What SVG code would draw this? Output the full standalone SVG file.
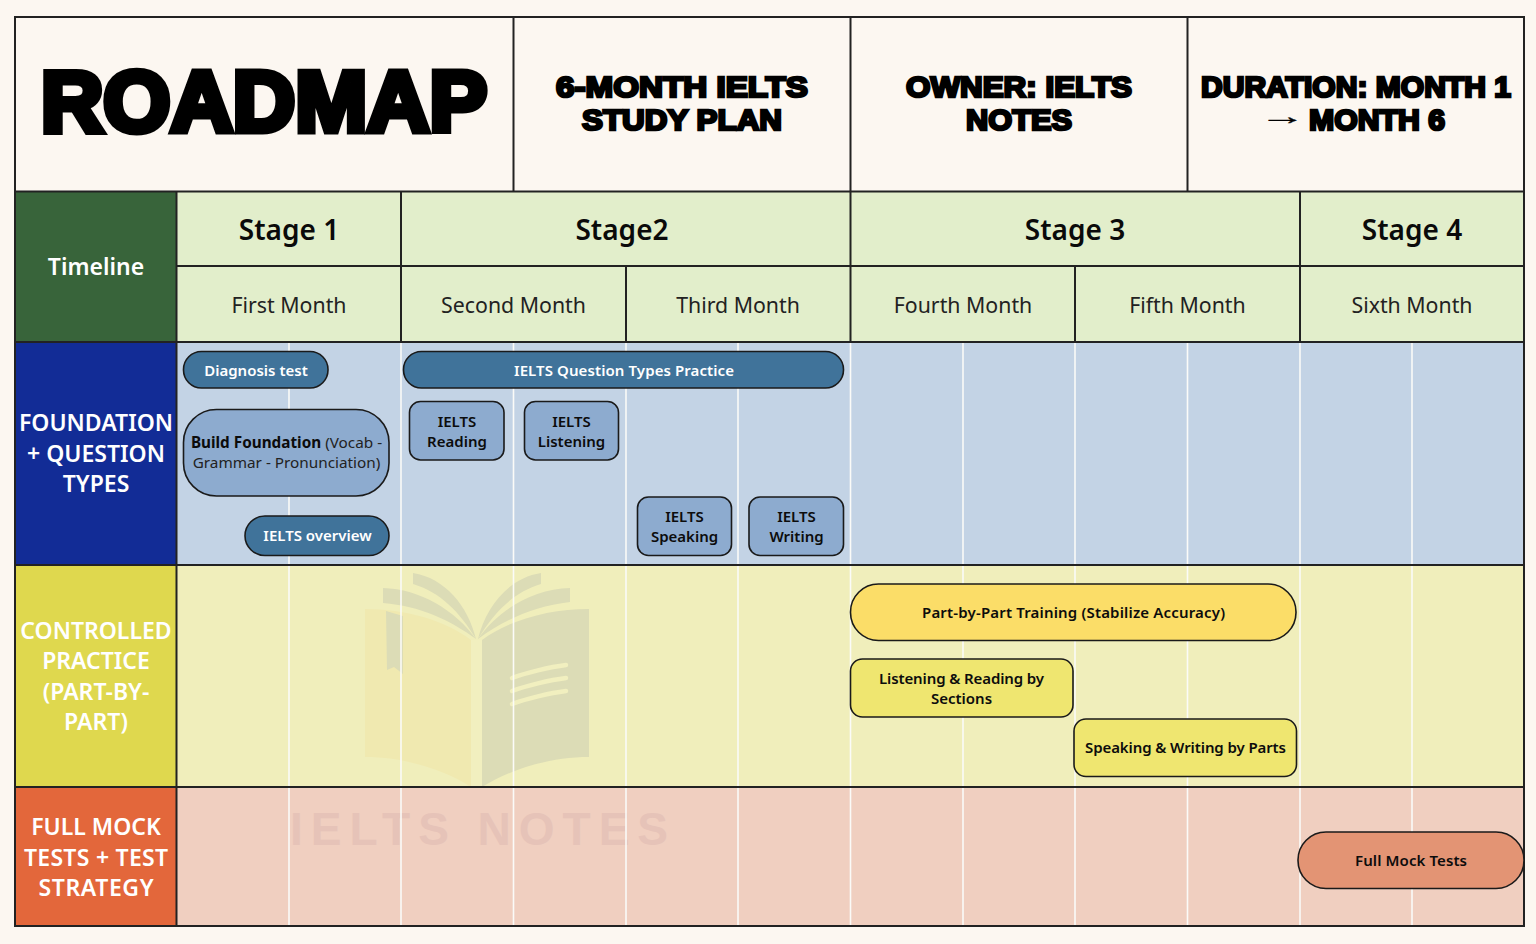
<svg xmlns="http://www.w3.org/2000/svg" width="1536" height="944" viewBox="0 0 1536 944">
<style>
text{font-family:"Noto Sans","Open Sans","DejaVu Sans",sans-serif;text-anchor:middle}
.g{stroke:#222;stroke-width:2;fill:none}
.w{stroke:#fbfbf8;stroke-width:1.6;fill:none}
.head{font-family:"Liberation Sans",Arial,sans-serif;font-weight:700;font-size:30px;fill:#000;stroke:#000;stroke-width:2.6px}
.stage{font-size:28px;font-weight:600;fill:#0a0a0a}
.month{font-size:21.300px;fill:#222}
.lab{font-size:23px;font-weight:600;fill:#fff}
.p{stroke:#1a1a1a;stroke-width:1.6}
.dk{fill:#40739a}.lt{fill:#8dabcf}.yl{fill:#fbdd68}.yp{fill:#efe670}.sa{fill:#e39474}
.tw{font-size:15px;font-weight:600;fill:#fff}
.tb{font-size:15px;font-weight:600;fill:#0c0c0c}
</style>
<rect width="1536" height="944" fill="#fcf7f1"/>
<g id="rows">
<rect x="177" y="192" width="1347" height="150" fill="#e2eecb"/>
<rect x="177" y="342" width="1347" height="223" fill="#c3d3e5"/>
<rect x="177" y="565" width="1347" height="222" fill="#f0eebb"/>
<rect x="177" y="787" width="1347" height="139" fill="#f0cfc0"/>
</g>
<g id="watermark">
<path d="M365 609C405 609 445 620 471 640V787C445 770 405 757 365 757Z" fill="#f0e9b0"/>
<path d="M589 609C549 609 509 620 482 640V787C509 770 549 757 589 757Z" fill="#dcdcb6"/>
<path d="M471 640H482V787H471Z" fill="#f1efbf"/>
<path d="M383 588C420 589 455 610 476 639C450 620 420 606 383 603Z" fill="#dcdcb6"/>
<path d="M413 573C445 578 468 606 476 639C460 612 440 592 413 584Z" fill="#dcdcb6"/>
<path d="M570 588C533 589 498 610 478 639C504 620 534 606 570 602Z" fill="#dcdcb6"/>
<path d="M541 573C509 578 486 606 478 639C494 612 514 592 541 584Z" fill="#dcdcb6"/>
<path d="M386 611L387 670L394 667L403 674V616Z" fill="#dcdcb6"/>
<path d="M512 678C525 673 550 667 566 665M512 691C525 686 550 680 566 678M512 704C525 699 550 693 566 691" stroke="#f1efbf" stroke-width="4.500" stroke-linecap="round" fill="none"/>
<text x="479" y="845" font-size="46" font-weight="700" fill="#e6c3b8" textLength="378" style="font-family:'Liberation Sans',sans-serif">IELTS NOTES</text>
</g>
<g id="month-guides">
<path class="w" d="M289 342V926M401 342V926M513.500 342V926M626 342V926M738 342V926M850.500 342V926M963 342V926M1075 342V926M1187.500 342V926M1300 342V926M1412 342V926"/>
</g>
<g id="title"><text x="264" y="131" font-size="86" font-weight="700" fill="#000" stroke="#000" stroke-width="7" textLength="446" lengthAdjust="spacingAndGlyphs" style="font-family:'Liberation Sans',sans-serif">ROADMAP</text></g>
<g id="header-plan"><text class="head" x="682" y="97" textLength="252" lengthAdjust="spacingAndGlyphs">6-MONTH IELTS</text><text class="head" x="682" y="130" textLength="200" lengthAdjust="spacingAndGlyphs">STUDY PLAN</text></g>
<g id="header-owner"><text class="head" x="1019" y="97" textLength="226" lengthAdjust="spacingAndGlyphs">OWNER: IELTS</text><text class="head" x="1019" y="130" textLength="106" lengthAdjust="spacingAndGlyphs">NOTES</text></g>
<g id="header-duration"><text class="head" x="1356" y="97" textLength="310" lengthAdjust="spacingAndGlyphs">DURATION: MONTH 1</text><text transform="translate(1282 124) scale(2 1)" font-size="23" fill="#000" stroke="#000" stroke-width="0.400" style="font-family:'Liberation Sans',sans-serif">→</text><text class="head" x="1377" y="130" textLength="136" lengthAdjust="spacingAndGlyphs">MONTH 6</text></g>
<g id="label-timeline"><rect x="15" y="192" width="162" height="150" fill="#38643a"/><text class="lab" x="96" y="275">Timeline</text></g>
<g id="label-foundation"><rect x="15" y="342" width="162" height="223" fill="#122c96"/><text class="lab" x="96" y="431">FOUNDATION</text><text class="lab" x="96" y="462">+ QUESTION</text><text class="lab" x="96" y="492">TYPES</text></g>
<g id="label-controlled"><rect x="15" y="565" width="162" height="222" fill="#dfd84e"/><text class="lab" x="96" y="639">CONTROLLED</text><text class="lab" x="96" y="669">PRACTICE</text><text class="lab" x="96" y="700">(PART-BY-</text><text class="lab" x="96" y="730">PART)</text></g>
<g id="label-mock"><rect x="15" y="787" width="162" height="139" fill="#e3673b"/><text class="lab" x="96" y="835">FULL MOCK</text><text class="lab" x="96" y="866" textLength="144">TESTS + TEST</text><text class="lab" x="96" y="896" textLength="115">STRATEGY</text></g>
<g id="stage-1"><text class="stage" x="289" y="240">Stage 1</text></g>
<g id="stage-2"><text class="stage" x="622" y="240">Stage2</text></g>
<g id="stage-3"><text class="stage" x="1075" y="240">Stage 3</text></g>
<g id="stage-4"><text class="stage" x="1412" y="240">Stage 4</text></g>
<g id="month-1"><text class="month" x="289" y="313">First Month</text></g>
<g id="month-2"><text class="month" x="513.500" y="313">Second Month</text></g>
<g id="month-3"><text class="month" x="738" y="313">Third Month</text></g>
<g id="month-4"><text class="month" x="963" y="313">Fourth Month</text></g>
<g id="month-5"><text class="month" x="1187.500" y="313">Fifth Month</text></g>
<g id="month-6"><text class="month" x="1412" y="313">Sixth Month</text></g>
<g id="grid">
<path class="g" d="M15 17H1524V926H15ZM15 191.500H1524M513.500 17V191M850.500 17V342M1187.500 17V191M176.500 191V926M177 266H1524M15 342H1524M15 565H1524M15 787H1524M401 191V342M626 266V342M1075 266V342M1300 191V342"/>
</g>
<g id="diagnosis"><rect class="p dk" x="183.500" y="351.500" width="144.500" height="36.500" rx="18"/><text class="tw" x="256" y="375.500">Diagnosis test</text></g>
<g id="question-types"><rect class="p dk" x="403.500" y="351.500" width="440" height="36.500" rx="18"/><text class="tw" x="624" y="375.500" textLength="220">IELTS Question Types Practice</text></g>
<g id="build-foundation"><rect class="p lt" x="183.500" y="409.500" width="205.500" height="86.500" rx="33"/><text x="286.500" y="448" font-size="15.300" fill="#222"><tspan font-weight="700" fill="#0c0c0c">Build Foundation</tspan> (Vocab -</text><text x="286.500" y="468" font-size="15.300" fill="#222">Grammar - Pronunciation)</text></g>
<g id="overview"><rect class="p dk" x="245" y="516" width="144" height="39.500" rx="20"/><text class="tw" x="317.500" y="541">IELTS overview</text></g>
<g id="reading"><rect class="p lt" x="409.500" y="401.500" width="94.500" height="58.500" rx="11"/><text class="tb" x="457" y="426.500">IELTS</text><text class="tb" x="457" y="446.500">Reading</text></g>
<g id="listening"><rect class="p lt" x="524.500" y="401.500" width="94" height="58.500" rx="11"/><text class="tb" x="571.500" y="426.500">IELTS</text><text class="tb" x="571.500" y="446.500">Listening</text></g>
<g id="speaking"><rect class="p lt" x="637.500" y="497" width="94" height="58.500" rx="11"/><text class="tb" x="684.500" y="522">IELTS</text><text class="tb" x="684.500" y="542">Speaking</text></g>
<g id="writing"><rect class="p lt" x="749" y="497" width="94.500" height="58.500" rx="11"/><text class="tb" x="796.500" y="522">IELTS</text><text class="tb" x="796.500" y="542">Writing</text></g>
<g id="part-training"><rect class="p yl" x="850.500" y="584" width="445.500" height="56.500" rx="28"/><text class="tb" x="1073.500" y="618" textLength="303">Part-by-Part Training (Stabilize Accuracy)</text></g>
<g id="listening-reading"><rect class="p yp" x="850.500" y="659" width="222.500" height="58" rx="12"/><text class="tb" x="961.500" y="684" textLength="165">Listening &amp; Reading by</text><text class="tb" x="961.500" y="704">Sections</text></g>
<g id="speaking-writing"><rect class="p yp" x="1074" y="719" width="222.500" height="57.500" rx="12"/><text class="tb" x="1185.500" y="753" textLength="201">Speaking &amp; Writing by Parts</text></g>
<g id="full-mock"><rect class="p sa" x="1298" y="832" width="226" height="56.500" rx="28"/><text class="tb" x="1411" y="866" textLength="112">Full Mock Tests</text></g>
</svg>
